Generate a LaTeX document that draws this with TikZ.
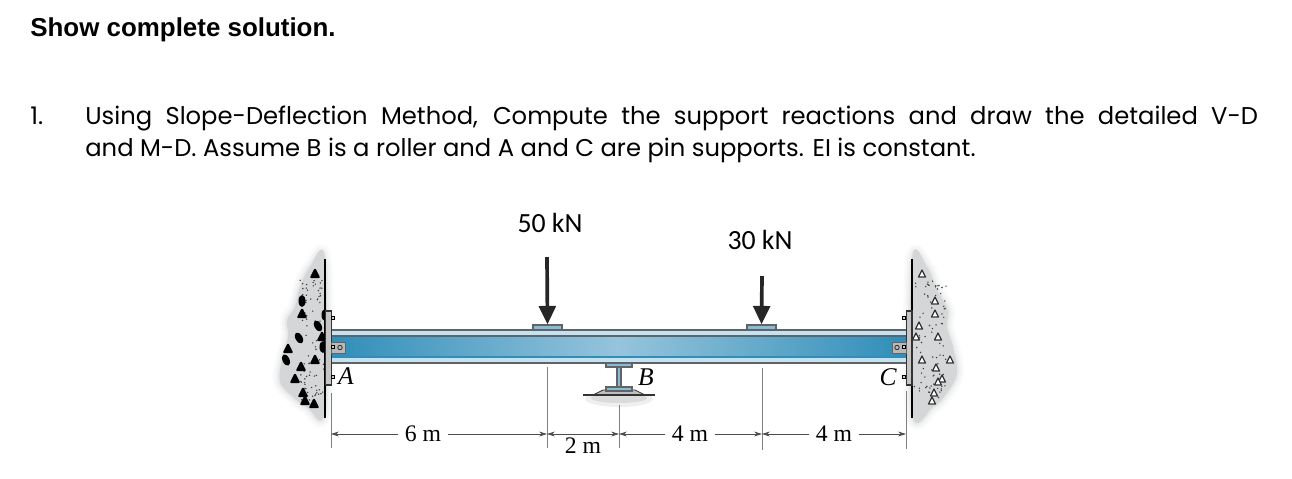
\documentclass[tikz,border=0pt]{standalone}
\usepackage{fontspec}
\setmainfont{Liberation Serif}
\newfontfamily\headfont{Liberation Sans}
\newfontfamily\bodyfont{Poppins}
\newfontfamily\loadfont{Carlito}
\usetikzlibrary{arrows.meta,positioning}

\definecolor{beamdark}{RGB}{48,142,184}
\definecolor{beammid}{RGB}{150,196,220}
\definecolor{beamlight}{RGB}{196,226,240}
\definecolor{steel}{RGB}{96,100,104}
\definecolor{platefill}{RGB}{140,186,208}
\definecolor{concrete}{RGB}{212,214,216}

\begin{document}
\begin{tikzpicture}[x=0.02cm,y=-0.02cm]
	\tikzstyle{headtext} = [anchor=base west, inner sep=0pt, font=\headfont\bfseries\fontsize{14.75}{16}\selectfont]
	\tikzstyle{bodytext} = [anchor=base west, inner sep=0pt, font=\bodyfont\fontsize{13.8}{16}\selectfont]
	\tikzstyle{loadtext} = [inner sep=0pt, font=\loadfont\fontsize{15.8}{18}\selectfont]
	\tikzstyle{dimtext} = [inner sep=3.5pt, fill=white, font=\fontsize{13.5}{15}\selectfont]
	\tikzstyle{supporttext} = [inner sep=0pt, font=\itshape\fontsize{14.5}{16}\selectfont]
	\tikzstyle{loadplate} = [rectangle, draw=steel, fill=platefill, line width=0.7pt, minimum width=29*0.02cm, minimum height=5*0.02cm, inner sep=0pt]
	\tikzstyle{loadarrow} = [line width=2.1pt, -{Triangle[length=10.5pt,width=9.5pt]}, black!85]
	\tikzstyle{dimline} = [line width=0.35pt, black!70, -{Stealth[length=4.5pt,width=2.8pt]}]
	\tikzstyle{extline} = [line width=0.5pt, black!50]
	\tikzstyle{nut} = [rectangle, draw=black, fill=gray!40, line width=0.8pt, minimum size=3.5*0.02cm, inner sep=0pt]
	\useasboundingbox (0,0) rectangle (1292,478);

	% Heading and question
	\node (head) [headtext] at (30,36) {Show complete solution.};
	\node (num) [bodytext] at (30,124) {1.};
	\node (lineA) [bodytext] at (85,124) {\makebox[23.46cm][s]{Using Slope-Deflection Method, Compute the support reactions and draw the detailed V-D}};
	\node (lineB) [bodytext] at (85,156) {and M-D. Assume B is a roller and A and C are pin supports. EI is constant.};

	% Left wall
	\foreach \w/\o in {14/0.12,9/0.2,4/0.35}
	\draw[concrete, line width=\w*0.567pt, opacity=\o] plot[smooth cycle, tension=0.6] coordinates {(325,262) (310,267) (300,287) (295,307) (287,320) (288,337) (282,360) (280,382) (293,397) (307,407) (325,410)};
	\fill[concrete] plot[smooth cycle, tension=0.6] coordinates {(325,259) (310,267) (300,287) (295,307) (287,320) (288,337) (282,360) (280,382) (293,397) (307,407) (325,410)};
	\pgfmathsetseed{17}
	\foreach \i in {1,...,80} {
		\pgfmathsetmacro{\dotx}{300+24*rnd}
		\pgfmathsetmacro{\doty}{278+122*rnd}
		\fill[black!75] (\dotx,\doty) circle [radius=0.8];
	}
	% Aggregate
	\foreach \x/\y in {315/274,302/314,315/360,301/367,295/379,303/393,305/401,314/404,288/349,322/337}
	\fill[black, draw=black, line width=1.4pt, line join=round] (\x-3.5,\y+3) -- (\x,\y-4) -- (\x+3.5,\y+3) -- cycle;
	\foreach \x/\y/\a in {302/301/0,318/326/30,299/338/30,286/360/25,323/347/0,325/315/0}
	\fill[black, rotate around={\a:(\x,\y)}] (\x,\y) ellipse [x radius=3.5, y radius=6];
	\draw[line width=0.8pt] (325,259) -- (325,418);

	% Right wall
	\foreach \w/\o in {14/0.12,9/0.2,4/0.35}
	\draw[concrete, line width=\w*0.567pt, opacity=\o] plot[smooth cycle, tension=0.6] coordinates {(912,262) (927,267) (937,290) (948,310) (947,327) (953,347) (957,373) (947,393) (933,407) (912,413)};
	\fill[concrete] plot[smooth cycle, tension=0.6] coordinates {(912,259) (927,267) (937,290) (948,310) (947,327) (953,347) (957,373) (947,393) (933,407) (912,413)};
	\foreach \i in {1,...,80} {
		\pgfmathsetmacro{\dotx}{914+32*rnd}
		\pgfmathsetmacro{\doty}{278+122*rnd}
		\fill[black!75] (\dotx,\doty) circle [radius=0.8];
	}
	% Aggregate
	\foreach \x/\y in {922/274,935/301,935/314,919/326,916/337,938/337,950/360,922/360,936/368,942/379,938/382,934/393,932/401}
	\draw[draw=black!80, fill=white, line width=0.7pt, line join=round] (\x-3.5,\y+3) -- (\x,\y-4) -- (\x+3.5,\y+3) -- cycle;
	\draw[line width=0.8pt] (912,259) -- (912,418);

	% Beam
	\fill[beamlight] (331,331) rectangle (906,362);
	\shade[left color=beamdark, right color=beamdark, middle color=beammid] (331,336) rectangle (906,357);
	\draw[steel, line width=1.3pt] (331,330) -- (906,330) (331,363) -- (906,363);
	\draw[steel, line width=0.7pt] (331,336) -- (906,336);
	\draw[beamdark, line width=0.7pt] (331,357) -- (906,357);

	% End plates and bolts
	\foreach \x in {328.5,909}
	\draw[black!80, fill=gray!45, line width=0.8pt] (\x-2.8,311) rectangle (\x+2.8,385);
	\draw[steel, fill=gray!55, line width=0.5pt] (331,342) rectangle (345,353);
	\draw[steel, fill=gray!55, line width=0.5pt] (892,342) rectangle (906,353);
	\foreach \x in {340,897}
	\draw[black!80, line width=0.5pt] (\x,347.5) circle [radius=2.2];
	\foreach \x/\y in {333/318,333/347,333/377,904/318,904/347,904/377}
	\node[nut] at (\x,\y) {};

	% Loads
	\node (plateL) [loadplate] at (547.5,327.5) {};
	\node (plateR) [loadplate] at (761.5,327.5) {};
	\coordinate (topL) at (547,257);
	\coordinate (topR) at (762,276);
	\draw[loadarrow] (topL) -- (plateL.north);
	\draw[loadarrow] (topR) -- (plateR.north);
	\node (loadL) [loadtext] at (550,223) {50 kN};
	\node (loadR) [loadtext] at (760,240) {30 kN};

	% Support B
	\fill[gray!35, opacity=0.35] (619,399) ellipse [x radius=34, y radius=8];
	\fill[gray!45, opacity=0.5] (619,398) ellipse [x radius=28, y radius=5];
	\draw[black!80, fill=gray!50, line width=0.5pt] (593,395) -- (603,390) -- (635,390) -- (645,395) -- cycle;
	\draw[black!80, line width=0.8pt] (583,395) -- (655,395);
	\draw[steel, fill=platefill, line width=0.7pt] (606,363) rectangle (632,367);
	\draw[steel, fill=platefill, line width=0.7pt] (606,387) rectangle (632,391);
	\draw[steel, fill=platefill, line width=0.7pt] (617,367) rectangle (621,387);

	% Support labels
	\node (labA) [supporttext] at (346,376) {A};
	\node (labB) [supporttext] at (646,377) {B};
	\node (labC) [supporttext] at (888,377) {C};

	% Dimensions
	\coordinate (dimA) at (331,434);
	\coordinate (dimB) at (547,434);
	\coordinate (dimC) at (619,434);
	\coordinate (dimD) at (762,434);
	\coordinate (dimE) at (906,434);
	\draw[extline] (331,393) -- (331,448);
	\draw[extline] (547,367) -- (547,448);
	\draw[extline] (619,405) -- (619,448);
	\draw[extline] (762,368) -- (762,450);
	\draw[extline] (906,391) -- (906,449);
	\node (spanA) [dimtext] at (423,434) {6 m};
	\node (spanC) [dimtext] at (690,434) {4 m};
	\node (spanD) [dimtext] at (834,434) {4 m};
	\node (spanB) [dimtext, inner sep=0pt, fill=none] at (583,446) {2 m};
	\coordinate (midB) at (583,434);
	\draw[dimline] (spanA) -- (dimA);
	\draw[dimline] (spanA) -- (dimB);
	\draw[dimline] (midB) -- (dimB);
	\draw[dimline] (midB) -- (dimC);
	\draw[dimline] (spanC) -- (dimC);
	\draw[dimline] (spanC) -- (dimD);
	\draw[dimline] (spanD) -- (dimD);
	\draw[dimline] (spanD) -- (dimE);
\end{tikzpicture}
\end{document}
